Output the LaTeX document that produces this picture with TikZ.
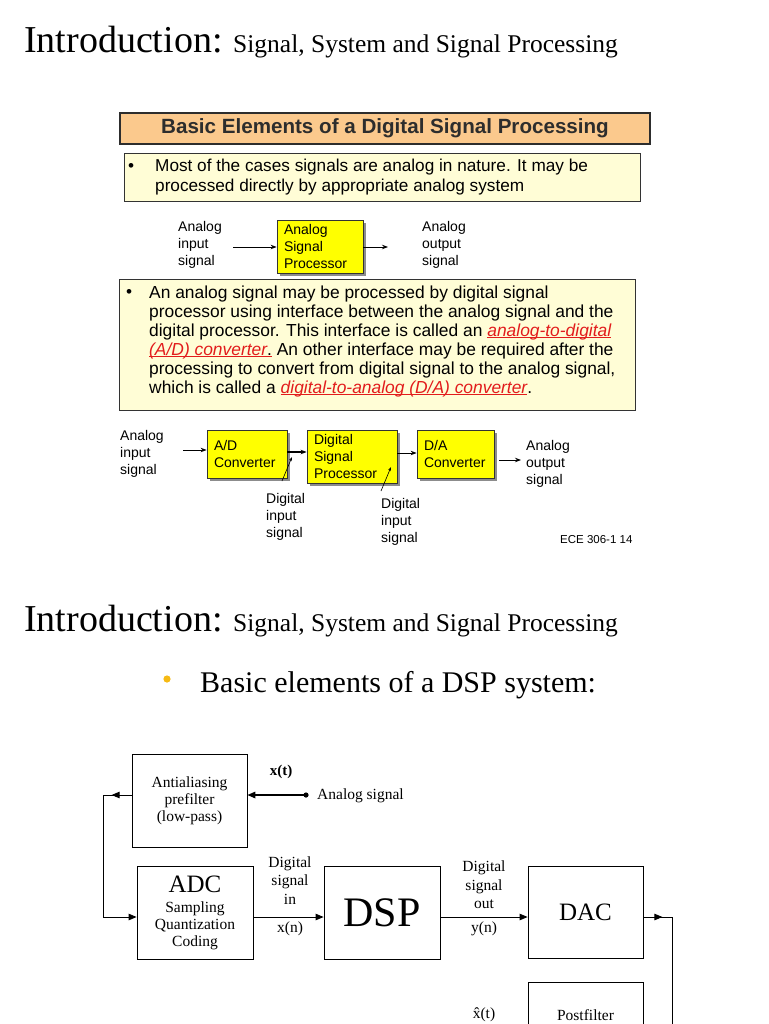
\documentclass[tikz,border=0pt]{standalone}
\usepackage{fontspec}
\setmainfont{Liberation Serif}
\setsansfont{Liberation Sans}
\usetikzlibrary{arrows.meta,shadows}
\definecolor{hdrorange}{RGB}{251,201,141}
\definecolor{paleyellow}{RGB}{255,253,214}
\definecolor{boxyellow}{RGB}{255,255,0}
\definecolor{linkred}{RGB}{226,28,28}
\definecolor{bulletorange}{RGB}{246,186,20}
\definecolor{hdrtext}{RGB}{45,45,45}
\newcommand{\myul}[1]{\setbox0\hbox{#1}\rlap{\rule[-2.4pt]{\wd0}{1pt}}\box0}
\newcommand{\redlink}[1]{\textcolor{linkred}{\itshape\myul{#1}}}
\begin{document}
\begin{tikzpicture}[x=1pt,y=-1pt,
  ybox/.style={draw=black!80, fill=boxyellow, line width=0.8,
    drop shadow={shadow xshift=3pt, shadow yshift=-3pt, fill=black!45, opacity=1},
    font=\sffamily\fontsize{14}{17}\selectfont, align=left, inner xsep=7pt, inner ysep=2pt},
  stxt/.style={font=\sffamily\fontsize{14}{17}\selectfont, align=left, inner sep=0pt, anchor=west},
  sarr/.style={-{Stealth[length=6pt,width=4.5pt]}, line width=0.9},
  para/.style={font=\sffamily\fontsize{17.2}{20}\selectfont, align=left, inner sep=0pt, anchor=west},
  wbox/.style={draw, line width=0.8, fill=white, align=center, font=\fontsize{15.5}{17}\selectfont},
  rtxt/.style={font=\fontsize{15.5}{18.5}\selectfont, align=center, inner sep=0pt},
  barr/.style={-{Triangle[length=8pt,width=6.5pt]}, line width=0.9},
  bigtitle/.style={font=\fontsize{38}{38}\selectfont, inner sep=0pt, anchor=base west},
  subtitle/.style={font=\fontsize{25.5}{25.5}\selectfont, inner sep=0pt, anchor=base west}
]
\useasboundingbox (0,0) rectangle (768,1024);
\clip (0,0) rectangle (768,1024);

% ---------- titles ----------
\node[bigtitle] (t1) at (24,53) {Introduction:};
\node[subtitle] (t1s) at (233,53) {Signal, System and Signal Processing};

% ---------- header box ----------
\node[draw=hdrtext, fill=hdrorange, line width=1.6, minimum width=530, minimum height=31,
  font=\sffamily\bfseries\fontsize{20.6}{20.6}\selectfont, text=hdrtext] (hdr) at (385,128.5)
  {Basic Elements of a Digital Signal Processing};

% ---------- first paragraph box ----------
\node[draw=black!80, fill=paleyellow, line width=0.8, minimum width=516, minimum height=48] (p1) at (382,177) {};
\node[para] (p1b) at (128,167) {\textbullet};
\node[para] (p1t) at (155,177) {Most of the cases signals are analog in nature. It may be\\processed directly by appropriate analog system};

% ---------- analog processor diagram ----------
\node[stxt] (ain) at (178,245) {Analog\\input\\signal};
\node[ybox, minimum width=86, minimum height=53, text width=72] (asp) at (320,246.5) {Analog\\Signal\\Processor};
\node[stxt] (aout) at (422,245) {Analog\\output\\signal};
\coordinate (ainA) at (233,247);
\coordinate (aoutA) at (388,247);
\draw[sarr] (ainA) -- (ainA -| asp.west);
\draw[sarr] (ainA -| asp.east) -- (aoutA);

% ---------- second paragraph box ----------
\node[draw=black!80, fill=paleyellow, line width=0.8, minimum width=516, minimum height=131] (p2) at (377,344.5) {};
\node[para] (p2b) at (126,293) {\textbullet};
\node[para, font=\sffamily\fontsize{17.4}{19}\selectfont] (p2t) at (149,341) {An analog signal may be processed by digital signal\\
processor using interface between the analog signal and the\\
digital processor. This interface is called an \redlink{analog-to-digital}\\
\redlink{(A/D) converter}\textcolor{linkred}{\myul{\textcolor{black}{.}}} An other interface may be required after the\\
processing to convert from digital signal to the analog signal,\\
which is called a \redlink{digital-to-analog (D/A) converter}.};

% ---------- digital processing chain ----------
\node[stxt] (din) at (120,454) {Analog\\input\\signal};
\node[ybox, minimum width=80, minimum height=48, text width=66] (ad) at (247,454) {A/D\\Converter};
\node[ybox, minimum width=90, minimum height=53, text width=76] (dsp1) at (352,456.5) {Digital\\Signal\\Processor};
\node[ybox, minimum width=77, minimum height=48, text width=63] (da) at (455.5,454) {D/A\\Converter};
\node[stxt] (dout) at (526,464) {Analog\\output\\signal};
\coordinate (dinA) at (183,450);
\coordinate (m1) at (0,452);
\coordinate (m2) at (0,453);
\coordinate (doutS) at (499,460);
\coordinate (doutE) at (521,460);
\draw[sarr] (dinA) -- (dinA -| ad.west);
\draw[sarr, line width=1.8] (m1 -| ad.east) -- (m1 -| dsp1.west);
\draw[sarr] (m2 -| dsp1.east) -- (m2 -| da.west);
\draw[sarr] (doutS) -- (doutE);

\node[stxt] (dl1) at (266,517) {Digital\\input\\signal};
\node[stxt] (dl2) at (381,522) {Digital\\input\\signal};
\coordinate (q1s) at (282,481);
\coordinate (q1e) at (292,457);
\coordinate (q2s) at (381,491);
\coordinate (q2e) at (391,467);
\draw[-{Stealth[length=4pt,width=3pt]}, line width=0.6] (q1s) -- (q1e);
\draw[-{Stealth[length=4pt,width=3pt]}, line width=0.6] (q2s) -- (q2e);
\node[font=\sffamily\fontsize{11.5}{11.5}\selectfont, inner sep=0pt, anchor=west] (ece) at (560,540) {ECE 306-1 14};

% ---------- second slide ----------
\node[bigtitle] (t2) at (24,631) {Introduction:};
\node[subtitle] (t2s) at (233,631) {Signal, System and Signal Processing};
\fill[bulletorange] (167,679) circle (3.6);
\node[font=\fontsize{30}{30}\selectfont, inner sep=0pt, anchor=base west] (bl) at (200,692) {Basic elements of a DSP system:};

% ---------- DSP block diagram ----------
\node[wbox, minimum width=115, minimum height=93] (pre) at (189.5,800.5) {Antialiasing\\prefilter\\(low-pass)};
\node[wbox, minimum width=116, minimum height=93] (adc) at (195,912.5) {{\fontsize{25}{25}\selectfont ADC}\\[3pt]Sampling\\Quantization\\Coding};
\node[wbox, minimum width=116, minimum height=93, font=\fontsize{42}{42}\selectfont] (dsp) at (382,912.5) {DSP};
\node[wbox, minimum width=115, minimum height=92, font=\fontsize{25}{25}\selectfont] (dac) at (585.5,912) {DAC};
\node[wbox, minimum width=115, minimum height=93] (post) at (585.5,1028.5) {};
\node[rtxt] (postt) at (585.5,1015) {Postfilter};

\coordinate (asig) at (306,795);
\coordinate (c1) at (103,795);
\coordinate (c2) at (103,917);
\coordinate (c3) at (672,917);
\coordinate (c4) at (672,1030);
\fill (asig) circle (2.6);
\draw[barr, line width=1.6] (asig) -- (asig -| pre.east);
\node[rtxt, anchor=west] (asl) at (317,796) {Analog signal};
\node[rtxt, font=\bfseries\fontsize{15}{15}\selectfont] (xt) at (281,772) {x(t)};

\draw[line width=0.9] (c1 -| pre.west) -- (c1) -- (c2);
\draw[barr] (c1 -| pre.west) -- ([xshift=-20pt]c1 -| pre.west);
\draw[barr] (c2) -- (c2 -| adc.west);
\draw[barr] (c2 -| adc.east) -- (c2 -| dsp.west);
\draw[barr] (c2 -| dsp.east) -- (c2 -| dac.west);
\draw[line width=0.9] (c3 -| dac.east) -- (c3) -- (c4);
\draw[barr] (c3 -| dac.east) -- ([xshift=19pt]c3 -| dac.east);

\node[rtxt] (dsin) at (290,880.5) {Digital\\signal\\in};
\node[rtxt] (xn) at (290,929) {x(n)};
\node[rtxt] (dsout) at (484,885) {Digital\\signal\\out};
\node[rtxt] (yn) at (484,929) {y(n)};
\node[rtxt] (xh) at (484,1015) {\^{x}(t)};
\end{tikzpicture}
\end{document}
